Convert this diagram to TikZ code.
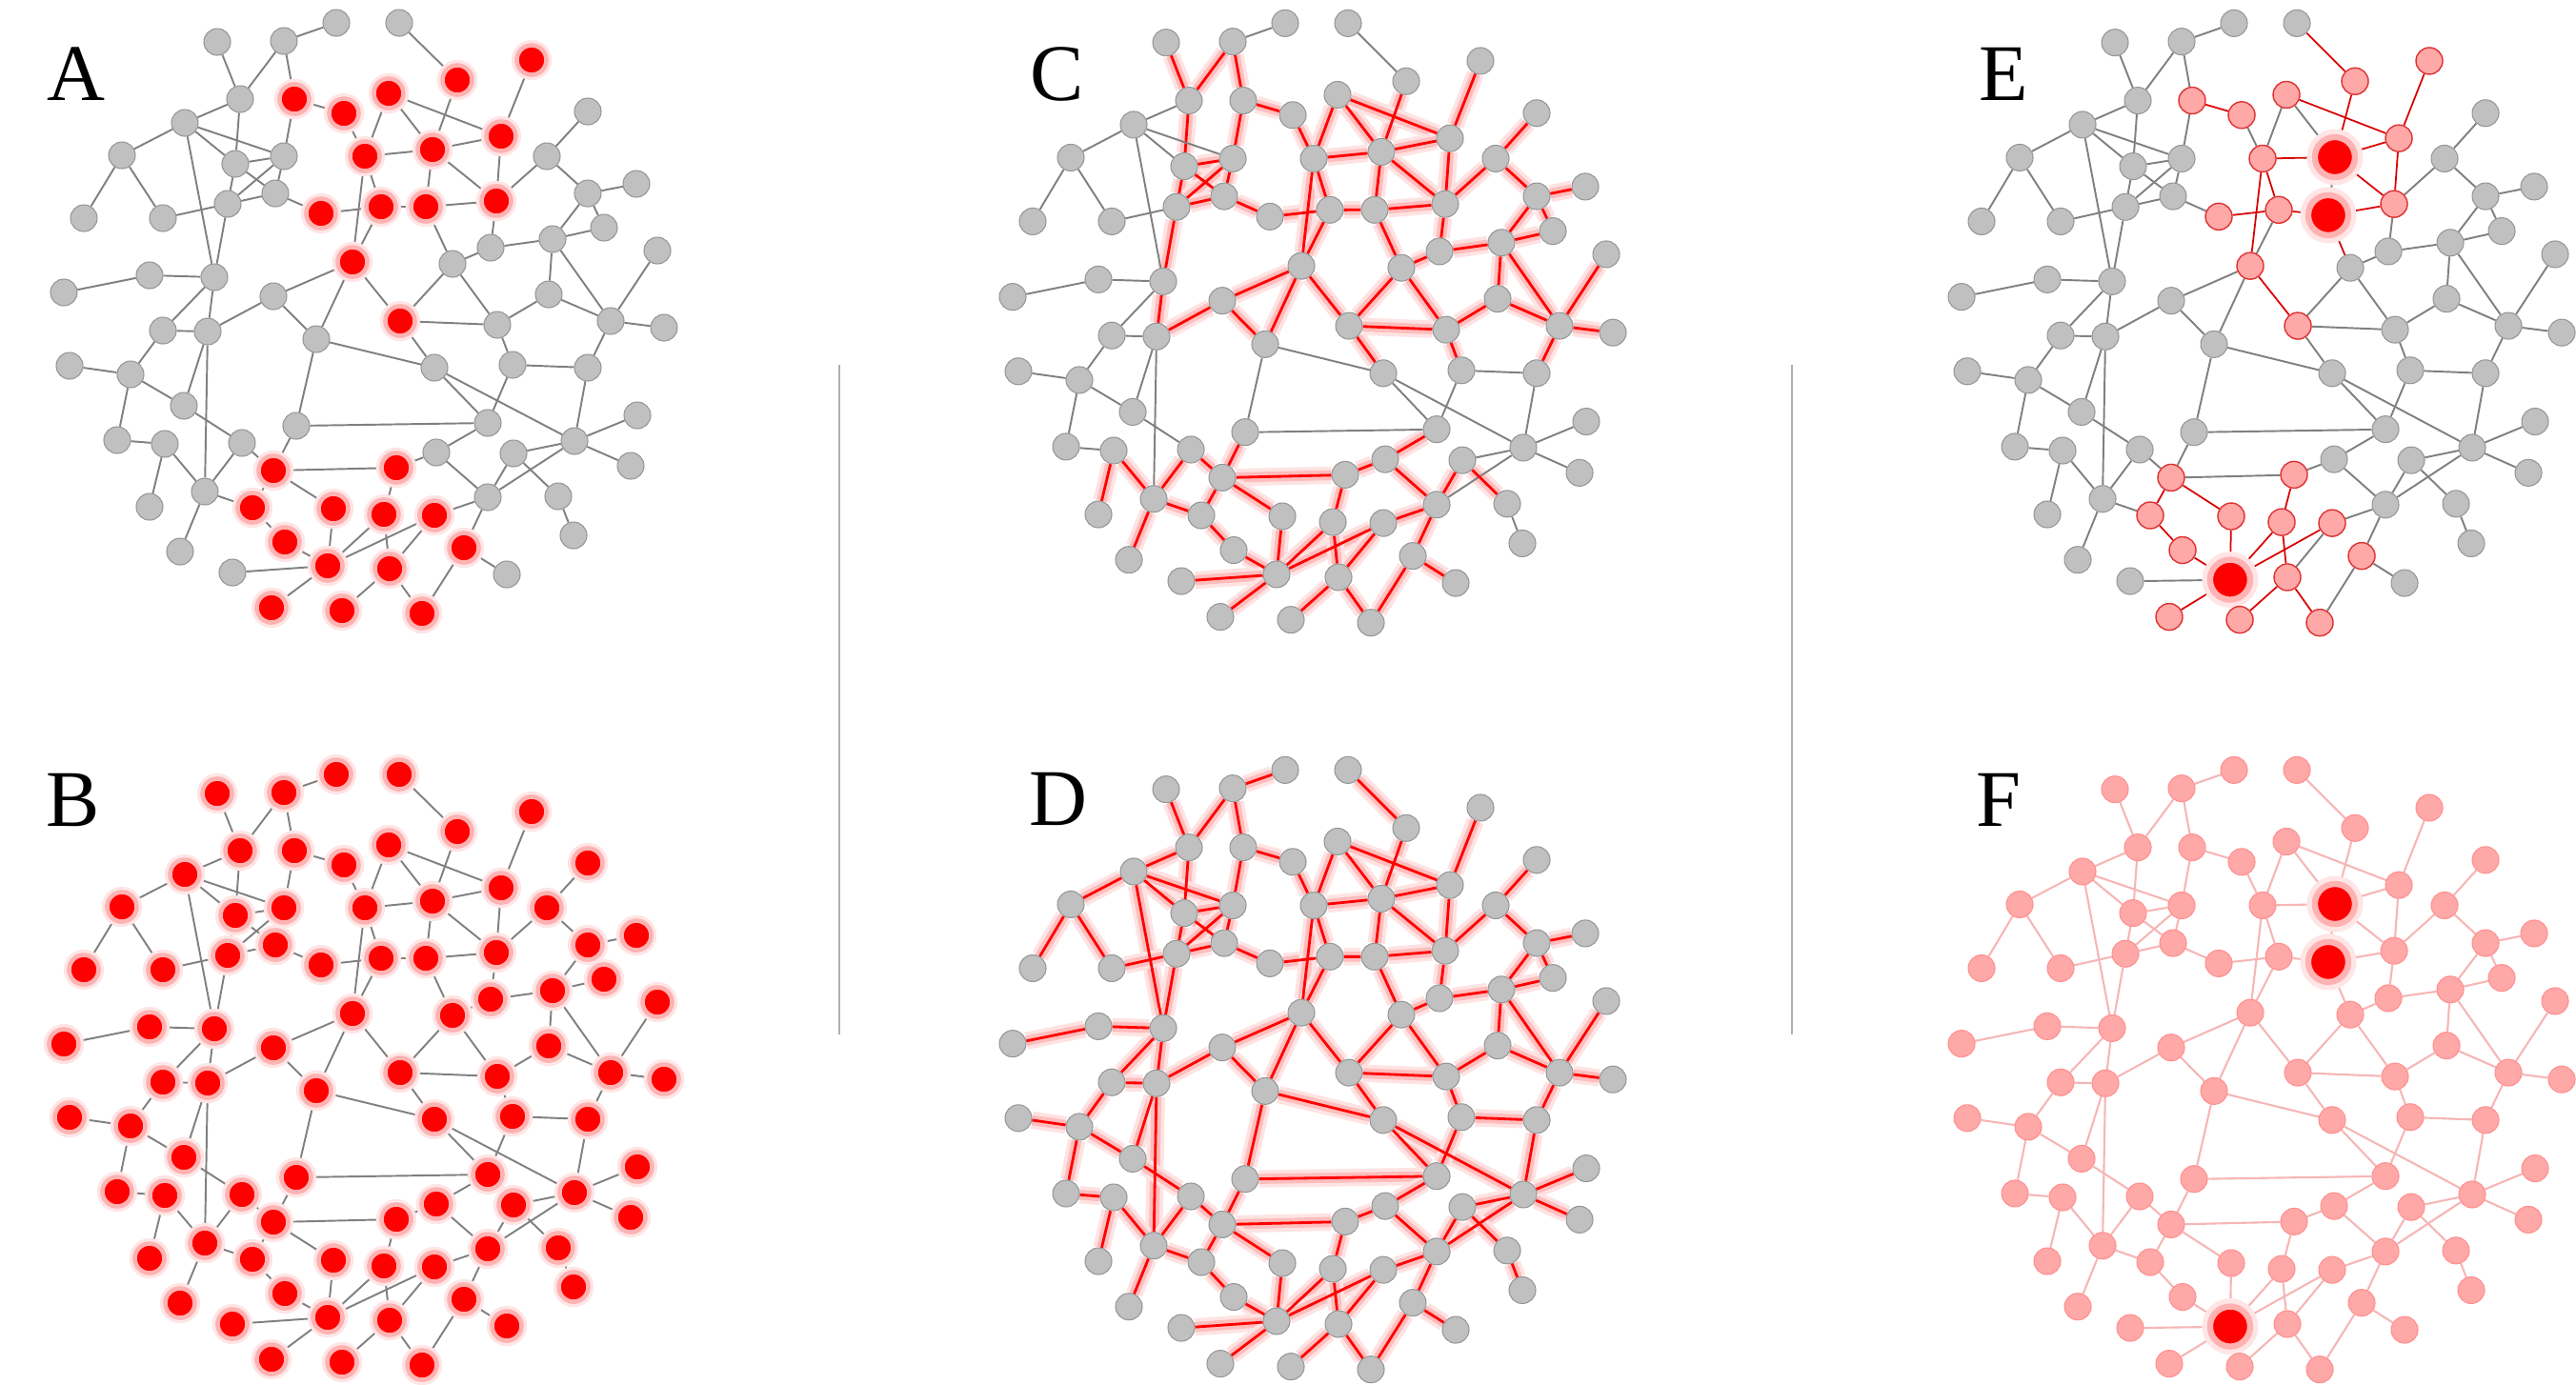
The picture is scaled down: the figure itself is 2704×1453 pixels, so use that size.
\documentclass[tikz,border=0pt]{standalone}
\usepackage{fontspec}
\setmainfont{Liberation Serif}
\usepackage{tikz}
\usetikzlibrary{backgrounds}
\definecolor{nodegray}{RGB}{192,192,192}
\definecolor{nodeline}{RGB}{150,150,150}
\definecolor{edgegray}{RGB}{128,128,128}
\definecolor{pinkfill}{RGB}{255,168,168}
\definecolor{pinkline}{RGB}{222,50,50}
\definecolor{fadeedge}{RGB}{246,182,182}
\definecolor{sepgray}{RGB}{175,175,175}

% node number / x / y / state (0 out, 1 reached, 2 seed)
\newcommand{\nodelist}{1/228/44/0, 2/298/43/0, 3/353/24/0, 4/252/104/0, 5/309/104/1,
 6/361/119/1, 7/194/129/0, 8/383/164/1, 9/128/163/0, 10/247/172/0, 11/298/164/0,
 12/289/203/0, 13/239/214/0, 14/88/229/0, 15/171/229/0, 16/337/224/1, 17/400/217/1,
 18/370/275/1, 19/157/289/0, 20/225/291/0, 21/67/307/0, 22/287/311/0, 23/171/347/0,
 24/218/348/0, 25/332/356/0, 26/419/24/0, 27/480/84/1, 28/558/63/1, 29/408/98/1,
 30/617/117/0, 31/526/143/1, 32/454/157/2, 33/574/164/0, 34/668/193/0, 35/617/203/0,
 36/447/217/2, 37/521/211/1, 38/634/239/0, 39/515/260/0, 40/580/251/0, 41/690/263/0,
 42/475/277/0, 43/576/309/0, 44/420/337/1, 45/522/341/0, 46/641/337/0, 47/697/344/0,
 48/73/384/0, 49/137/393/0, 50/193/426/0, 51/311/447/0, 52/123/462/0, 53/173/466/0,
 54/254/465/0, 55/287/494/1, 56/215/516/0, 57/265/533/1, 58/350/534/1, 59/157/532/0,
 60/299/569/1, 61/189/579/0, 62/344/594/2, 63/244/601/0, 64/285/638/1, 65/359/641/1,
 66/456/386/0, 67/538/383/0, 68/617/386/0, 69/669/436/0, 70/512/444/0, 71/603/463/0,
 72/458/475/0, 73/539/476/0, 74/416/491/1, 75/662/489/0, 76/512/522/0, 77/586/521/0,
 78/403/540/1, 79/456/541/1, 80/602/562/0, 81/487/575/1, 82/409/597/1, 83/532/603/0,
 84/443/644/1}

% from / to / lit in C / lit in E
\newcommand{\edgelist}{1/4/1/0, 2/4/1/0, 2/3/0/0, 2/5/1/0, 4/7/0/0, 4/10/1/0, 5/6/1/1,
 5/11/1/0, 6/8/1/0, 7/9/0/0, 7/10/0/0, 7/11/0/0, 7/20/0/0, 9/14/0/0, 9/15/0/0,
 10/11/1/0, 10/12/1/0, 10/13/1/0, 11/13/1/0, 11/12/1/0, 12/13/1/0, 13/15/0/0, 13/20/1/0,
 12/16/1/0, 16/17/1/1, 8/18/1/1, 17/18/1/0, 18/22/1/0, 18/25/1/0, 19/21/0/0, 19/20/0/0,
 20/23/0/0, 20/24/1/0, 22/24/1/0, 22/25/1/0, 23/24/0/0,
 26/27/0/1, 27/32/1/1, 28/31/1/1, 8/29/1/0, 29/32/1/0, 29/31/1/1, 31/32/1/1, 8/32/1/1,
 32/36/1/0, 32/37/1/1, 31/37/1/1, 8/17/1/1, 17/36/1/1, 36/42/1/1, 36/37/1/1, 37/39/1/0,
 33/37/1/0, 30/33/1/0, 33/35/1/0, 34/35/1/0, 35/38/1/0, 35/40/1/0, 38/40/1/0, 39/40/1/0,
 40/43/1/0, 40/46/1/0, 41/46/1/0, 39/42/1/0, 42/44/1/0, 42/45/1/0, 18/44/1/1, 44/45/1/0,
 43/45/1/0, 43/46/1/0, 46/47/1/0,
 25/66/0/0, 25/51/0/0, 23/49/0/0, 48/49/0/0, 49/50/0/0, 49/52/0/0, 24/50/0/0, 24/56/0/0,
 50/54/0/0, 52/53/0/0, 53/59/1/0, 53/56/1/0, 54/56/1/0, 56/61/1/0, 56/57/1/0, 54/55/1/0,
 51/55/1/0, 51/70/0/0, 55/74/1/0, 55/57/1/1, 55/58/1/1, 57/60/1/1, 60/62/1/1, 58/62/1/1,
 62/63/1/0, 62/64/1/1, 62/78/1/1, 62/79/1/1, 65/82/1/1,
 44/66/1/0, 45/67/1/0, 46/68/1/0, 67/68/0/0, 66/70/0/0, 66/71/0/0, 67/70/0/0, 68/71/0/0,
 70/72/1/0, 69/71/0/0, 71/75/0/0, 71/73/0/0, 71/76/0/0, 72/74/1/0, 72/76/1/0, 73/76/1/0,
 73/77/1/0, 77/80/0/0, 76/79/1/0, 76/81/1/0, 74/78/1/1, 78/82/1/1, 79/82/1/0, 82/84/1/1,
 81/83/1/0, 81/84/1/0}

\tikzset{
  gnode/.style={circle, inner sep=0pt, minimum size=2.8mm, fill=nodegray, draw=nodeline, line width=0.3pt},
  rnode/.style={circle, inner sep=0pt, minimum size=3.1mm, fill=red, draw=red!30, line width=1.3pt,
    preaction={draw=red!10, line width=3.2pt}},
  pnode/.style={circle, inner sep=0pt, minimum size=2.8mm, fill=pinkfill, draw=pinkline, line width=0.4pt},
  fnode/.style={circle, inner sep=0pt, minimum size=2.8mm, fill=pinkfill, draw=pinkfill!85!red, line width=0.3pt},
  bignode/.style={circle, inner sep=0pt, minimum size=4.2mm, fill=red, draw=red!30, line width=1.8pt,
    preaction={draw=red!10, line width=4.8pt}, xshift=1.4pt, yshift=-1.6pt},
  nA0/.style=gnode, nA1/.style=rnode, nA2/.style=rnode,
  nE0/.style=gnode, nE1/.style=pnode, nE2/.style=bignode,
  nF0/.style=fnode, nF1/.style=fnode, nF2/.style=bignode,
  gedge/.style={draw=edgegray, line width=0.55pt},
  halo/.style={draw=red!26, line width=3pt, preaction={draw=red!11, line width=5.2pt}},
  rline/.style={draw=red, line width=0.8pt},
  eline/.style={draw=red!85!black, line width=0.5pt},
  fline/.style={draw=fadeedge, line width=0.6pt},
  ec0/.style=gedge, ec1/.style=rline,
  ee0/.style=gedge, ee1/.style=eline,
  lbl/.style={font=\fontsize{24}{24}\selectfont, inner sep=0pt},
  sep/.style={draw=sepgray, line width=0.5pt}
}

\begin{document}
\begin{tikzpicture}[x=0.01cm, y=-0.01cm]
  \useasboundingbox (0,0) rectangle (2704,1453);

  % panel A: reached nodes
  \begin{scope}
    \foreach \i/\x/\y/\st in \nodelist
      \node[nA\st] (A-\i) at (\x,\y) {};
    \begin{pgfonlayer}{background}
      \foreach \i/\j/\ci/\ei in \edgelist
        \draw[gedge] (A-\i) -- (A-\j);
    \end{pgfonlayer}
  \end{scope}

  % panel B: all nodes
  \begin{scope}[shift={(0,789)}]
    \foreach \i/\x/\y/\st in \nodelist
      \node[rnode] (B-\i) at (\x,\y) {};
    \begin{pgfonlayer}{background}
      \foreach \i/\j/\ci/\ei in \edgelist
        \draw[gedge] (B-\i) -- (B-\j);
    \end{pgfonlayer}
  \end{scope}

  % panel C: used links
  \begin{scope}[shift={(996,0)}, yscale=1.015]
    \foreach \i/\x/\y/\st in \nodelist
      \node[gnode] (C-\i) at (\x,\y) {};
    \begin{pgfonlayer}{background}
      \foreach \i/\j/\ci/\ei in \edgelist
        {\ifnum\ci=1 \draw[halo] (C-\i) -- (C-\j);\fi}
      \foreach \i/\j/\ci/\ei in \edgelist
        \draw[ec\ci] (C-\i) -- (C-\j);
    \end{pgfonlayer}
  \end{scope}

  % panel D: all links
  \begin{scope}[shift={(996,784)}, yscale=1.015]
    \foreach \i/\x/\y/\st in \nodelist
      \node[gnode] (D-\i) at (\x,\y) {};
    \begin{pgfonlayer}{background}
      \foreach \i/\j/\ci/\ei in \edgelist
        \draw[halo] (D-\i) -- (D-\j);
      \foreach \i/\j/\ci/\ei in \edgelist
        \draw[rline] (D-\i) -- (D-\j);
    \end{pgfonlayer}
  \end{scope}

  % panel E: seeds and their spread
  \begin{scope}[shift={(1992,0)}, yscale=1.015]
    \foreach \i/\x/\y/\st in \nodelist
      \node[nE\st] (E-\i) at (\x,\y) {};
    \begin{pgfonlayer}{background}
      \foreach \i/\j/\ci/\ei in \edgelist
        \draw[ee\ei] (E-\i) -- (E-\j);
    \end{pgfonlayer}
  \end{scope}

  % panel F: seeds over whole net
  \begin{scope}[shift={(1992,784)}, yscale=1.015]
    \foreach \i/\x/\y/\st in \nodelist
      \node[nF\st] (F-\i) at (\x,\y) {};
    \begin{pgfonlayer}{background}
      \foreach \i/\j/\ci/\ei in \edgelist
        \draw[fline] (F-\i) -- (F-\j);
    \end{pgfonlayer}
  \end{scope}

  % labels
  \node[lbl] (labA) at (80,78) {A};
  \node[lbl] (labB) at (77,840) {B};
  \node[lbl] (labC) at (1110,78) {C};
  \node[lbl] (labD) at (1111,839) {D};
  \node[lbl] (labE) at (2103,78) {E};
  \node[lbl] (labF) at (2098,840) {F};

  % separators
  \draw[sep] (881,383) -- (881,1086);
  \draw[sep] (1881,383) -- (1881,1086);
\end{tikzpicture}
\end{document}
